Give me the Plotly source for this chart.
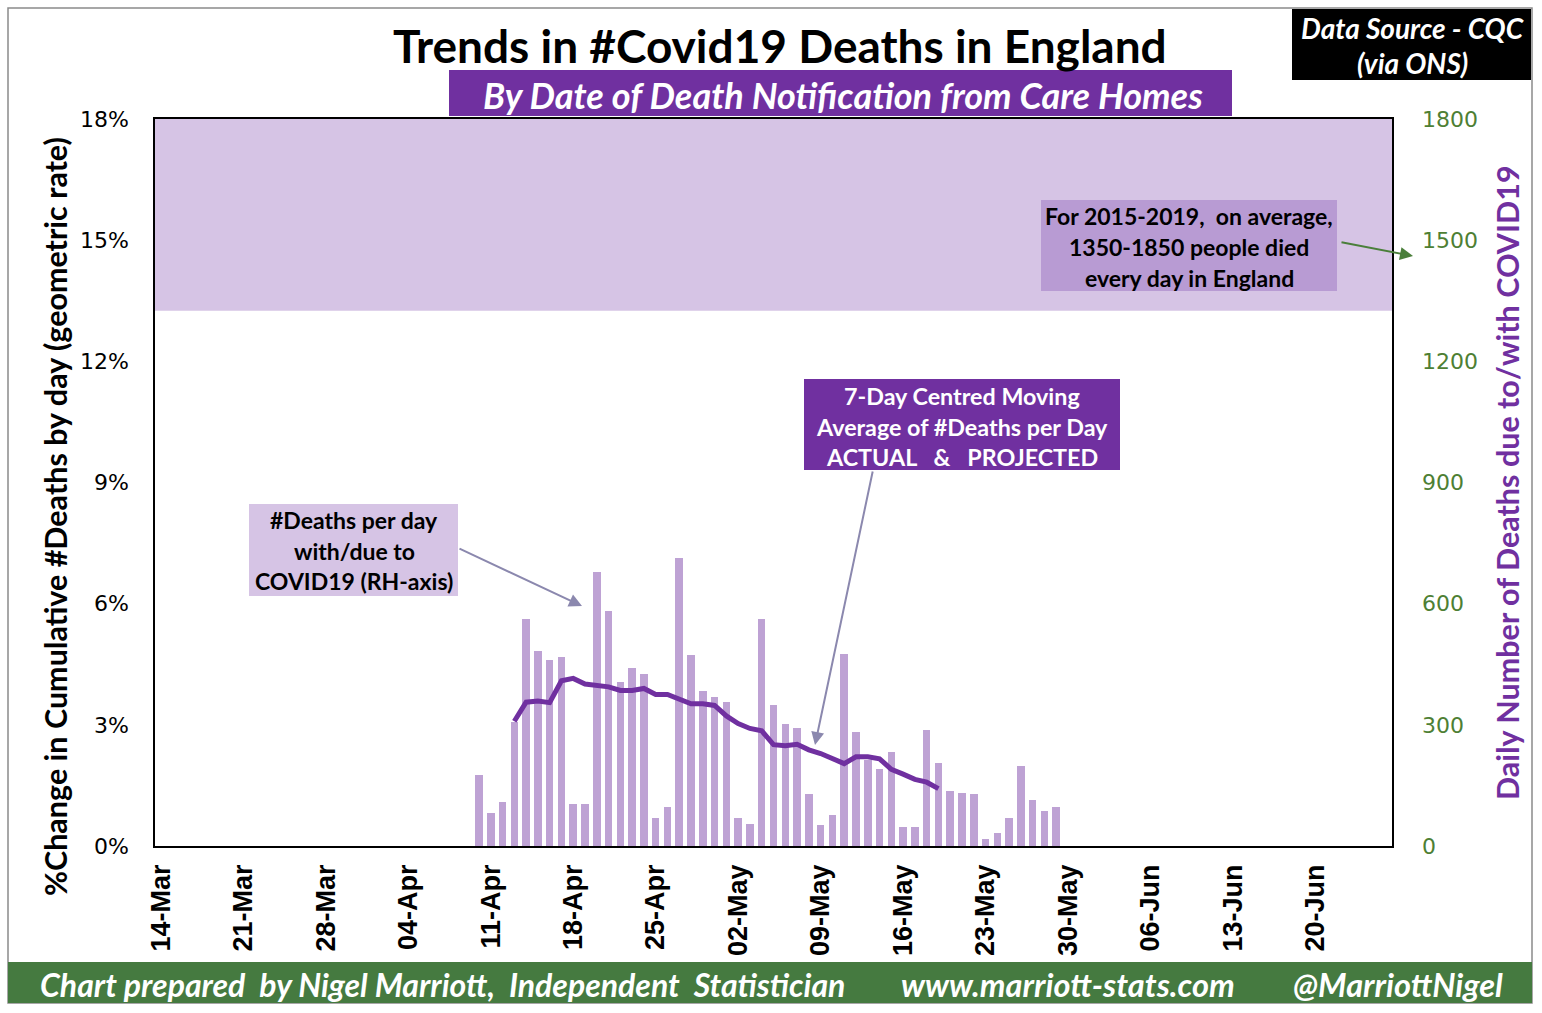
import plotly.graph_objects as go
import pandas as pd

# ---------------- data ----------------
bar_start = "2020-04-10"
daily_deaths = [175, 82, 109, 306, 561, 484, 460, 469, 105, 105,
                678, 581, 407, 441, 426, 70, 97, 712, 472, 383,
                368, 357, 70, 54, 561, 348, 302, 291, 129, 51,
                78, 476, 282, 213, 190, 233, 47, 47, 286, 205,
                135, 132, 129, 17, 31, 70, 198, 113, 86, 97]
ma_start = "2020-04-13"
ma7 = [309, 356, 359, 355, 409, 415, 401, 397, 394, 385,
       385, 390, 375, 375, 363, 352, 352, 348, 322, 303,
       291, 285, 251, 248, 252, 238, 229, 217, 204, 221,
       221, 216, 190, 178, 165, 158, 142]
band_low, band_high = 1325, 1850
left_ticks = [0, 0.03, 0.06, 0.09, 0.12, 0.15, 0.18]
right_ticks = [0, 300, 600, 900, 1200, 1500, 1800]

bar_dates = pd.date_range(bar_start, periods=len(daily_deaths), freq="D")
ma_dates = pd.date_range(ma_start, periods=len(ma7), freq="D")

PURPLE = "#7030A0"
BAR = "#BEA2D4"
BAND = "#D6C4E5"
GREEN_TXT = "#4E7F34"
FOOT = "#457A40"
CAL = "Lato"

# plot area in pixels
L, R, T, B = 155, 1392, 119, 846
def px(x):
    return (x - L) / (R - L)
def py(y):
    return (B - y) / (B - T)

fig = go.Figure()
fig.add_trace(go.Scatter(x=[bar_dates[0]], y=[0], mode="markers",
                         marker=dict(opacity=0), yaxis="y", showlegend=False, hoverinfo="skip"))
fig.add_trace(go.Bar(x=bar_dates, y=daily_deaths, yaxis="y2",
                     marker=dict(color=BAR, line=dict(width=0)),
                     width=0.64 * 86400000, showlegend=False))
fig.add_trace(go.Scatter(x=ma_dates, y=ma7, yaxis="y2", mode="lines",
                         line=dict(color=PURPLE, width=5), showlegend=False))

shapes = []
# band of normal deaths (right axis)
shapes.append(dict(type="rect", xref="paper", yref="y2", x0=0, x1=1,
                   y0=band_low, y1=min(band_high, 1800), fillcolor=BAND,
                   line=dict(width=0), layer="below"))
# outer border
shapes.append(dict(type="rect", xref="paper", yref="paper", x0=px(8), x1=px(1532),
                   y0=py(1003), y1=py(8), line=dict(color="#8A8A8A", width=1.5)))
# footer
shapes.append(dict(type="rect", xref="paper", yref="paper", x0=px(8), x1=px(1532),
                   y0=py(1003), y1=py(962), fillcolor=FOOT, line=dict(width=0)))
# data source box
shapes.append(dict(type="rect", xref="paper", yref="paper", x0=px(1292), x1=px(1531),
                   y0=py(80), y1=py(9), fillcolor="black", line=dict(width=0)))
# subtitle box
shapes.append(dict(type="rect", xref="paper", yref="paper", x0=px(449), x1=px(1232),
                   y0=py(116), y1=py(70), fillcolor=PURPLE, line=dict(width=0)))
# annotation boxes
shapes.append(dict(type="rect", xref="paper", yref="paper", x0=px(1041), x1=px(1337),
                   y0=py(291), y1=py(200), fillcolor="#B89BD3", line=dict(width=0)))
shapes.append(dict(type="rect", xref="paper", yref="paper", x0=px(804), x1=px(1120),
                   y0=py(470), y1=py(379), fillcolor=PURPLE, line=dict(width=0)))
shapes.append(dict(type="rect", xref="paper", yref="paper", x0=px(249), x1=px(458),
                   y0=py(596), y1=py(504), fillcolor=BAND, line=dict(width=0)))

ann = []
def text(x, y, s, size, color="black", family=CAL, angle=0, xanchor="center"):
    ann.append(dict(x=px(x), y=py(y), xref="paper", yref="paper", text=s, showarrow=False,
                    font=dict(family=family, size=size, color=color), textangle=angle,
                    xanchor=xanchor, yanchor="middle"))

text(780, 45, "<b>Trends in #Covid19 Deaths in England</b>", 46)
text(843, 95, "<b><i>By Date of Death Notification from Care Homes</i></b>", 36, "white")
text(1412, 28, "<b><i>Data Source - CQC</i></b>", 28, "white")
text(1412, 63, "<b><i>(via ONS)</i></b>", 28, "white")
text(55, 517, "<b>%Change in Cumulative #Deaths by day (geometric rate)</b>", 30.5, angle=-90)
text(1507, 483, "<b>Daily Number of Deaths due to/with COVID19</b>", 30.5, PURPLE, angle=-90)
for i, line in enumerate(["For 2015-2019,  on average,", "1350-1850 people died", "every day in England"]):
    text(1189, 216 + 31 * i, "<b>%s</b>" % line, 23)
for i, line in enumerate(["7-Day Centred Moving", "Average of #Deaths per Day", "ACTUAL   &   PROJECTED"]):
    text(962, 396 + 30.5 * i, "<b>%s</b>" % line, 23.3, "white")
for i, line in enumerate(["#Deaths per day", "with/due to", "COVID19 (RH-axis)"]):
    text(354, 520 + 30.5 * i, "<b>%s</b>" % line, 23)
text(38, 984, "<b><i>Chart prepared  by Nigel Marriott,  Independent  Statistician</i></b>", 32, "white", xanchor="left")
text(1068, 984, "<b><i>www.marriott-stats.com</i></b>", 32.5, "white")
text(1398, 984, "<b><i>@MarriottNigel</i></b>", 32.5, "white")

def arrow(hx, hy, tx, ty, color):
    ann.append(dict(x=px(hx), y=py(hy), xref="paper", yref="paper", text="",
                    showarrow=True, ax=tx - hx, ay=ty - hy, axref="pixel", ayref="pixel",
                    arrowhead=2, arrowsize=1.3, arrowwidth=2, arrowcolor=color))

arrow(582, 606, 458, 548, "#8B88AE")
arrow(815, 745, 873, 470, "#8B88AE")
arrow(1413, 256, 1340, 242, "#4A7F3A")

fig.update_layout(
    width=1542, height=1013,
    margin=dict(l=L, r=1542 - R, t=T, b=1013 - B, pad=0),
    paper_bgcolor="white", plot_bgcolor="white",
    bargap=0, shapes=shapes, annotations=ann,
    xaxis=dict(type="date", range=["2020-03-13 12:00", "2020-06-26 12:00"],
               tick0="2020-03-14", dtick=7 * 86400000, tickformat="%d-%b",
               tickangle=-90, ticks="", showgrid=False, zeroline=False,
               showline=True, linecolor="black", linewidth=1.5, mirror=True,
               tickfont=dict(family="Liberation Sans", size=27, color="black", weight="bold"),
               automargin=False, ticklabelstandoff=6),
    yaxis=dict(range=[0, 0.18], tickvals=left_ticks, tickformat=".0%", showgrid=False,
               zeroline=False, showline=True, linecolor="black", linewidth=1.5, mirror=True,
               tickfont=dict(family="DejaVu Sans", size=22, color="black"),
               ticks="", ticklabelstandoff=20, automargin=False),
    yaxis2=dict(range=[0, 1800], tickvals=right_ticks, overlaying="y", side="right",
                showgrid=False, zeroline=False, showline=False,
                tickfont=dict(family="DejaVu Sans", size=22, color=GREEN_TXT),
                ticks="", ticklabelstandoff=29, automargin=False),
)

fig.write_html("out.html")
